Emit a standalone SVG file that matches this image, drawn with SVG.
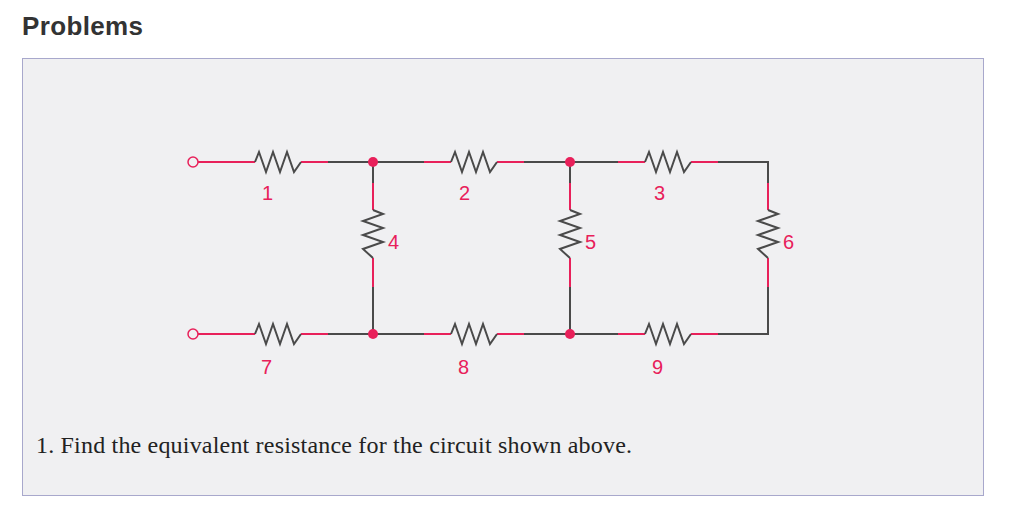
<svg xmlns="http://www.w3.org/2000/svg" width="1024" height="515" viewBox="0 0 1024 515">
<style>
.w{stroke:#4a4a4a;stroke-width:2;fill:none}
.r{stroke:#e8205a;stroke-width:2;fill:none}
.z{stroke:#4a4a4a;stroke-width:2;fill:none;stroke-linejoin:miter}
.lb{font-family:"Liberation Sans",Arial,sans-serif;font-size:20px;fill:#e8205a}
.dot{fill:#e8205a}
</style>
<defs>
<g id="rh"><path class="r" d="M-50 0H-23M23 0H50"/><path class="z" d="M-23 0L-19 -10L-12 10L-5 -10L2 10L9 -10L16 10L23 0"/></g>
<g id="rv"><path class="r" d="M0 -51V-24M0 24V53"/><path class="z" d="M0 -24L10 -20L-10 -13L10 -6L-10 1L10 8L-10 15L0 24"/></g>
</defs>
<rect width="1024" height="515" fill="#fff"/>
<text x="22" y="35" font-family="Liberation Sans,Arial,sans-serif" font-size="26" font-weight="bold" fill="#333" textLength="121">Problems</text>
<rect x="22.5" y="58.5" width="961" height="437" fill="#f0f0f2" stroke="#a8a8cc"/>
<g id="connectors">
<path class="w" d="M323 162H424M524 162H618M718 162H768V183M768 287V334H718M618 334H524M424 334H323M373 162V183M373 287V334M570 162V183M570 287V334"/>
<path class="r" d="M198 162H228M198 334H228"/>
<circle cx="193" cy="162" r="5" fill="#f0f0f2" stroke="#e8205a" stroke-width="1.5"/>
<circle cx="193" cy="334" r="5" fill="#f0f0f2" stroke="#e8205a" stroke-width="1.5"/>
</g>
<g id="R1"><use href="#rh" x="278" y="162"/><text class="lb" x="262" y="200">1</text></g>
<g id="R2"><use href="#rh" x="474" y="162"/><text class="lb" x="459" y="200">2</text></g>
<g id="R3"><use href="#rh" x="668" y="162"/><text class="lb" x="654" y="200">3</text></g>
<g id="R4"><use href="#rv" x="373" y="234"/><text class="lb" x="388" y="249">4</text></g>
<g id="R5"><use href="#rv" x="570" y="234"/><text class="lb" x="585" y="249">5</text></g>
<g id="R6"><use href="#rv" x="768" y="234"/><text class="lb" x="783" y="249">6</text></g>
<g id="R7"><use href="#rh" x="278" y="334"/><text class="lb" x="261" y="374">7</text></g>
<g id="R8"><use href="#rh" x="474" y="334"/><text class="lb" x="458" y="374">8</text></g>
<g id="R9"><use href="#rh" x="668" y="334"/><text class="lb" x="652" y="374">9</text></g>
<g id="nodes">
<circle class="dot" cx="373" cy="162" r="5"/><circle class="dot" cx="570" cy="162" r="5"/>
<circle class="dot" cx="373" cy="334" r="5"/><circle class="dot" cx="570" cy="334" r="5"/>
</g>
<text x="36" y="453" font-family="Liberation Serif,'Times New Roman',serif" font-size="24" fill="#222" textLength="596">1. Find the equivalent resistance for the circuit shown above.</text>
</svg>
